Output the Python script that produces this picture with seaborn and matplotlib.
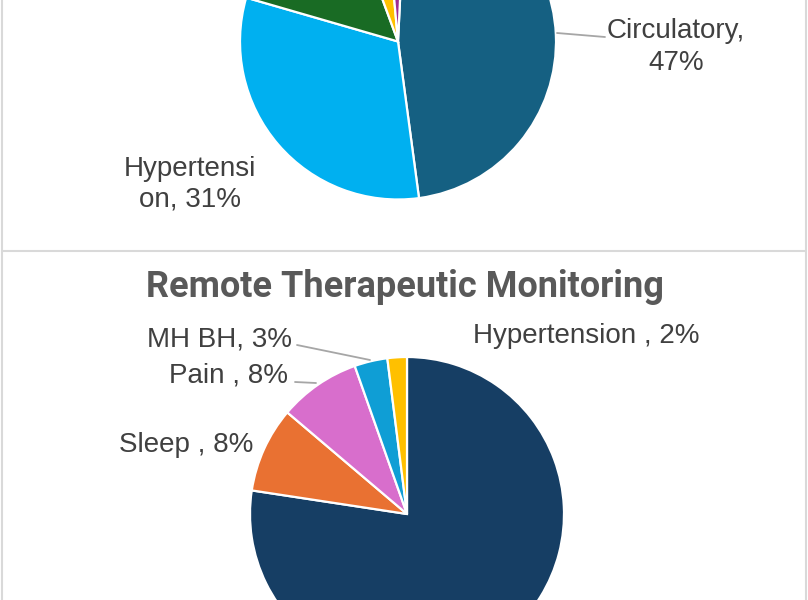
import matplotlib
matplotlib.use("Agg")
import matplotlib.pyplot as plt
import seaborn as sns

# ---- data ----
top_categories = ["Circulatory", "Hypertension", "Other A", "Other B", "Other C"]
top_values = [47.1, 31.6, 14.9, 4.2, 2.2]
top_colors = ["#156082", "#00B0F0", "#196B24", "#FFC000", "#A02B93"]

rtm_title = "Remote Therapeutic Monitoring"
rtm_categories = ["Other", "Sleep", "Pain", "MH BH", "Hypertension"]
rtm_values = [77.4, 8.8, 8.4, 3.4, 2.0]
rtm_colors = ["#163E64", "#E97132", "#D86ECC", "#0F9ED5", "#FFC000"]

top_labels = ["Circulatory,\n47%", "Hypertensi\non, 31%"]
rtm_labels = ["Hypertension , 2%", "MH BH, 3%", "Pain , 8%", "Sleep , 8%"]

sns.set_theme(style="white")
plt.rcParams["font.family"] = ["Liberation Sans", "DejaVu Sans"]

W, H = 808, 600
fig = plt.figure(figsize=(W / 100, H / 100), dpi=100)
ax = fig.add_axes([0, 0, 1, 1])

def Y(y):
    return H - y

wedge = dict(edgecolor="white", linewidth=1.6)

ax.pie(top_values, colors=top_colors, startangle=87.2, counterclock=False,
       center=(398, Y(41.5)), radius=158, wedgeprops=wedge, frame=True)
ax.pie(rtm_values, colors=rtm_colors, startangle=90, counterclock=False,
       center=(407, Y(514)), radius=157, wedgeprops=wedge, frame=True)

ax.set_xlim(0, W)
ax.set_ylim(0, H)
ax.set_aspect("equal")
ax.axis("off")

txt = dict(color="#404040", fontsize=20)
lead = dict(color="#A6A6A6", lw=1.3)

# top chart labels
ax.text(676, Y(47), top_labels[0], ha="center", va="center", linespacing=1.25, **txt)
ax.plot([557, 605], [Y(33), Y(37)], **lead)
ax.text(190, Y(184), top_labels[1], ha="center", va="center", linespacing=1.25, **txt)

# divider and borders
border = dict(color="#D9D9D9", lw=1.5)
ax.plot([1.5, 1.5], [0, H], **border)
ax.plot([805.5, 805.5], [0, H], **border)
ax.plot([1.5, 805.5], [Y(250.5), Y(250.5)], **border)

# bottom chart
ax.text(405, Y(297), rtm_title, ha="center", va="baseline", fontsize=26,
        fontweight="bold", color="#595959", family=["Roboto", "DejaVu Sans"])

ax.text(473, Y(343), rtm_labels[0], ha="left", va="baseline", **txt)
ax.text(292, Y(347), rtm_labels[1], ha="right", va="baseline", **txt)
ax.plot([297, 370], [Y(345), Y(360)], **lead)
ax.text(288, Y(383), rtm_labels[2], ha="right", va="baseline", **txt)
ax.plot([295, 316], [Y(382), Y(383)], **lead)
ax.text(253, Y(452), rtm_labels[3], ha="right", va="baseline", **txt)

fig.savefig("out.png", dpi=100)
